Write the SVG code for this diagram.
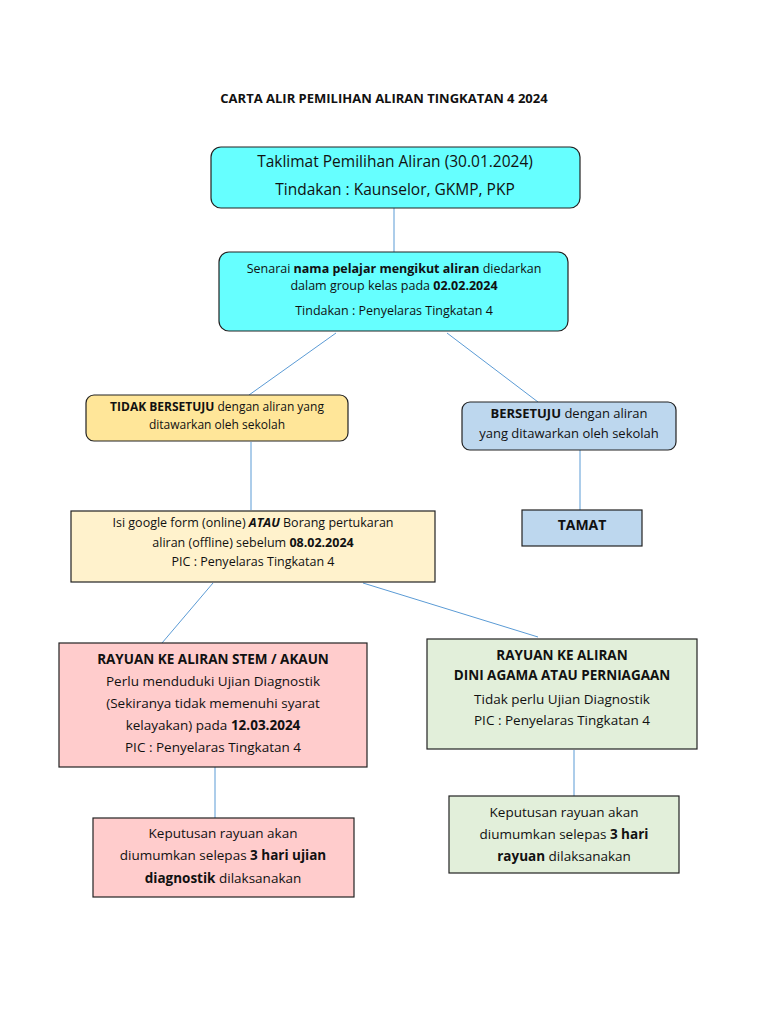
<svg xmlns="http://www.w3.org/2000/svg" width="768" height="1024" viewBox="0 0 768 1024">
<style>
text{font-family:"Open Sans","Liberation Sans",sans-serif;fill:#111;text-anchor:middle;dominant-baseline:middle}
.b{font-weight:bold}
.box{stroke:#222;stroke-width:1.2}
.c{stroke:#5b9bd5;stroke-width:1;fill:none}
</style>
<rect width="768" height="1024" fill="#fff"/>
<text x="384" y="100" class="b" font-size="13">CARTA ALIR PEMILIHAN ALIRAN TINGKATAN 4 2024</text>
<g id="connectors">
<line class="c" x1="394" y1="208" x2="394" y2="252"/>
<line class="c" x1="336" y1="333" x2="249" y2="395"/>
<line class="c" x1="447" y1="333" x2="538" y2="402"/>
<line class="c" x1="251" y1="442" x2="251" y2="510"/>
<line class="c" x1="580" y1="450" x2="580" y2="510"/>
<line class="c" x1="213" y1="583" x2="162" y2="643"/>
<line class="c" x1="363" y1="583" x2="538" y2="637"/>
<line class="c" x1="215" y1="767" x2="215" y2="818"/>
<line class="c" x1="574" y1="750" x2="574" y2="796"/>
</g>
<g id="n1"><rect class="box" x="211" y="147" width="369" height="61" rx="10" fill="#66ffff"/>
<text x="395" y="163" font-size="15.5">Taklimat Pemilihan Aliran (30.01.2024)</text>
<text x="395" y="191" font-size="15.5">Tindakan : Kaunselor, GKMP, PKP</text></g>
<g id="n2"><rect class="box" x="219" y="252" width="349" height="79" rx="10" fill="#66ffff"/>
<text x="394" y="270" font-size="12.5">Senarai <tspan class="b">nama pelajar mengikut aliran</tspan> diedarkan</text>
<text x="394" y="287" font-size="12.5">dalam group kelas pada <tspan class="b">02.02.2024</tspan></text>
<text x="394" y="312" font-size="12.5">Tindakan : Penyelaras Tingkatan 4</text></g>
<g id="n3"><rect class="box" x="86" y="395" width="262" height="46" rx="8" fill="#ffe699"/>
<text x="217" y="408" font-size="12"><tspan class="b">TIDAK BERSETUJU</tspan> dengan aliran yang</text>
<text x="217" y="426" font-size="12">ditawarkan oleh sekolah</text></g>
<g id="n4"><rect class="box" x="462" y="402" width="214" height="48" rx="8" fill="#bdd7ee"/>
<text x="569" y="415" font-size="13"><tspan class="b">BERSETUJU</tspan> dengan aliran</text>
<text x="569" y="435" font-size="13">yang ditawarkan oleh sekolah</text></g>
<g id="n5"><rect class="box" x="522" y="510" width="120" height="36" fill="#bdd7ee"/>
<text x="582" y="526" class="b" font-size="14">TAMAT</text></g>
<g id="n6"><rect class="box" x="71" y="511" width="364" height="71" fill="#fff2cc"/>
<text x="253" y="524" font-size="12.5">Isi google form (online) <tspan class="b" font-style="italic">ATAU</tspan> Borang pertukaran</text>
<text x="253" y="544" font-size="12.5">aliran (offline) sebelum <tspan class="b">08.02.2024</tspan></text>
<text x="253" y="563" font-size="12.5">PIC : Penyelaras Tingkatan 4</text></g>
<g id="n7"><rect class="box" x="59" y="643" width="308" height="124" fill="#ffcccc"/>
<text x="213" y="660" class="b" font-size="13.5">RAYUAN KE ALIRAN STEM / AKAUN</text>
<text x="213" y="682" font-size="13.5">Perlu menduduki Ujian Diagnostik</text>
<text x="213" y="704" font-size="13.5">(Sekiranya tidak memenuhi syarat</text>
<text x="213" y="726" font-size="13.5">kelayakan) pada <tspan class="b">12.03.2024</tspan></text>
<text x="213" y="748" font-size="13.5">PIC : Penyelaras Tingkatan 4</text></g>
<g id="n8"><rect class="box" x="427" y="639" width="270" height="110" fill="#e2efda"/>
<text x="562" y="656" class="b" font-size="13.5">RAYUAN KE ALIRAN</text>
<text x="562" y="676" class="b" font-size="13.5">DINI AGAMA ATAU PERNIAGAAN</text>
<text x="562" y="700" font-size="13.5">Tidak perlu Ujian Diagnostik</text>
<text x="562" y="721" font-size="13.5">PIC : Penyelaras Tingkatan 4</text></g>
<g id="n9"><rect class="box" x="93" y="818" width="261" height="79" fill="#ffcccc"/>
<text x="223" y="834" font-size="13.5">Keputusan rayuan akan</text>
<text x="223" y="856" font-size="13.5">diumumkan selepas <tspan class="b">3 hari ujian</tspan></text>
<text x="223" y="879" font-size="13.5"><tspan class="b">diagnostik</tspan> dilaksanakan</text></g>
<g id="n10"><rect class="box" x="449" y="796" width="230" height="77" fill="#e2efda"/>
<text x="564" y="813" font-size="13.5">Keputusan rayuan akan</text>
<text x="564" y="835" font-size="13.5">diumumkan selepas <tspan class="b">3 hari</tspan></text>
<text x="564" y="857" font-size="13.5"><tspan class="b">rayuan</tspan> dilaksanakan</text></g>
</svg>
